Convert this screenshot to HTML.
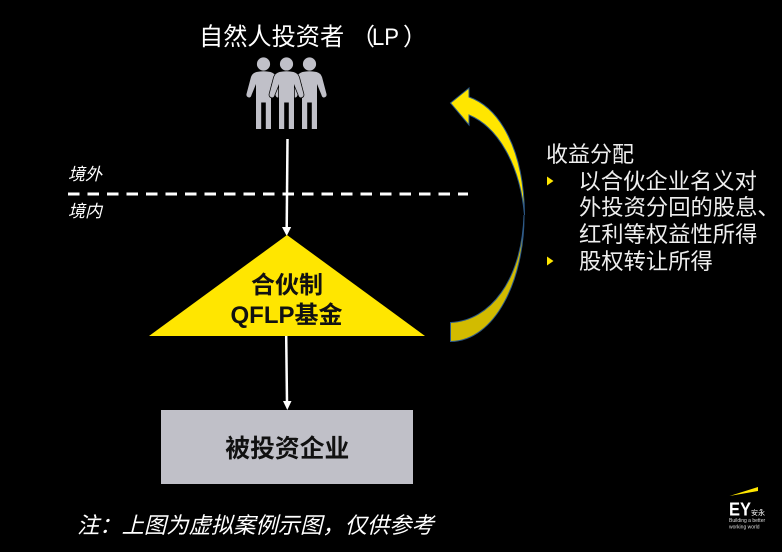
<!DOCTYPE html>
<html><head><meta charset="utf-8"><style>
html,body{margin:0;padding:0;background:#000;width:782px;height:552px;overflow:hidden}
svg{display:block}
text{font-family:"Liberation Sans","WenQuanYi Zen Hei","Noto Sans CJK SC",sans-serif}
</style></head><body>
<svg width="782" height="552" viewBox="0 0 782 552" xmlns="http://www.w3.org/2000/svg">
<defs>
<g id="p">
<circle cx="0" cy="0" r="6.600" fill="#c0c0c8"/>
<path d="M-7 8 Q0 6.500 7 8 Q11 9 12.500 13 L17 30 Q17.500 33 14.500 33.500 Q12.500 33.500 12 31 L7.500 20 L7.500 65 L2.300 65 L2.300 38.500 L-2.300 38.500 L-2.300 65 L-7.500 65 L-7.500 20 L-12 31 Q-12.500 33.500 -14.500 33.500 Q-17.500 33 -17 30 L-12.500 13 Q-11 9 -7 8Z" fill="#c0c0c8"/>
</g>
</defs>
<rect width="782" height="552" fill="#000"/>
<text x="199" y="45" font-size="24.200" fill="#fff">自然人投资者</text>
<text x="351" y="45" font-size="24" fill="#fff">（</text>
<text x="372" y="45" font-size="24" fill="#fff" textLength="27" lengthAdjust="spacingAndGlyphs">LP</text>
<text x="403" y="45" font-size="24" fill="#fff">）</text>
<use href="#p" x="263.500" y="64"/>
<use href="#p" x="309.500" y="64"/>
<g stroke="#000" stroke-width="1.500" style="paint-order:stroke"><use href="#p" x="286.500" y="64"/></g>
<line x1="68" y1="194" x2="468" y2="194" stroke="#fff" stroke-width="3" stroke-dasharray="11.500 8"/>
<text x="68" y="180" font-size="17" fill="#fff" font-style="italic">境外</text>
<text x="68" y="217" font-size="17" fill="#fff" font-style="italic">境内</text>
<line x1="287.500" y1="139" x2="286.700" y2="228" stroke="#fff" stroke-width="2.500"/>
<path d="M282 227 L291.200 227 L286.700 236Z" fill="#fff"/>
<path d="M287 235 L425 336 L149 336Z" fill="#ffe600"/>
<text x="287" y="293" font-size="24" font-weight="700" text-anchor="middle" fill="#111">合伙制</text>
<text x="286.500" y="323" font-size="24" font-weight="700" text-anchor="middle" fill="#111">QFLP基金</text>
<line x1="286.200" y1="336" x2="287" y2="403" stroke="#fff" stroke-width="2.500"/>
<path d="M283 401 L291.500 401 L287.300 410Z" fill="#fff"/>
<rect x="161" y="410" width="252" height="74" fill="#c0c0c8"/>
<text x="287.300" y="457" font-size="24.800" font-weight="700" text-anchor="middle" fill="#111">被投资企业</text>
<path d="M450.500 322.500 C490 321 522 280 524 215 C524.500 280 495 341 450.500 341.500Z" fill="#d2bb00" stroke="#2e5a88" stroke-width="1"/>
<path d="M450.500 103 L469 88 L469 97 C500 108 524 150 524.500 215 C520 165 498 127 469 115 L469 125Z" fill="#ffe600" stroke="#2e5a88" stroke-width="1"/>
<text x="546" y="162" font-size="22" fill="#eee">收益分配</text>
<path d="M547 176.500 L553.500 181 L547 185.500Z" fill="#ffe600"/>
<text x="578.500" y="189" font-size="22.300" fill="#eee">以合伙企业名义对</text>
<text x="579" y="215" font-size="22.300" fill="#eee">外投资分回的股息、</text>
<text x="579" y="242" font-size="22.300" fill="#eee">红利等权益性所得</text>
<path d="M547 256.500 L553.500 261 L547 265.500Z" fill="#ffe600"/>
<text x="579" y="269" font-size="22.300" fill="#eee">股权转让所得</text>
<text x="77" y="533" font-size="22.300" fill="#fff" font-style="italic">注：上图为虚拟案例示图，仅供参考</text>
<path d="M729.500 496 L758 487 L758 491Z" fill="#ffe600"/>
<text x="729" y="515.500" font-size="18" font-weight="700" fill="#fff" textLength="22" lengthAdjust="spacingAndGlyphs">EY</text>
<text x="751" y="515" font-size="7" fill="#fff">安永</text>
<text x="729" y="522" font-size="5" fill="#ddd">Building a better</text>
<text x="729" y="528.500" font-size="5" fill="#ddd">working world</text>
</svg>
</body></html>
